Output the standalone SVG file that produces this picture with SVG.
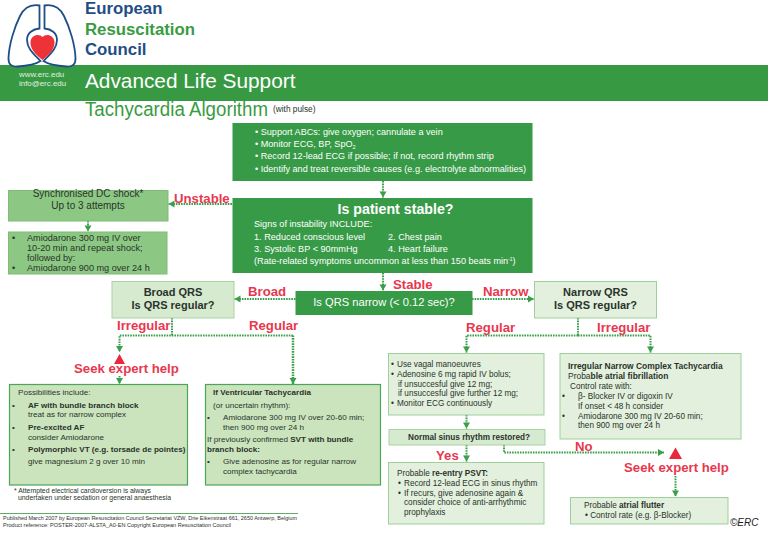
<svg xmlns="http://www.w3.org/2000/svg" width="768" height="543" viewBox="0 0 768 543">
<style>
text{font-family:"Liberation Sans",Arial,sans-serif;fill:#2a332b}
.b{font-weight:bold}
.w{fill:#fff}
.m{text-anchor:middle}
.lab{font-weight:bold;font-size:13.2px;fill:#e8384f}
.seek{font-weight:bold;font-size:13.2px;fill:#e8384f}
.dark{fill:#379a46}
.mid{fill:#8cc883;stroke:#7dbd75;stroke-width:1}
.pale{fill:#d6ead0;stroke:#a9d3a3;stroke-width:1}
.paler{fill:#e2f0dd;stroke:#9fd09b;stroke-width:1}
.strong{fill:#cbe4bd;stroke:#4ca659;stroke-width:1.2}
.t7{font-size:8.1px}
.t8{font-size:8.2px}
.t9{font-size:9.15px}
.t85{font-size:9.1px}
.q{font-size:11px;font-weight:bold}
.conn{fill:none;stroke:#3a9f4a;stroke-width:2;stroke-dasharray:1.6 1}
.tri{fill:#e8283c}
</style>
<defs>
<marker id="arr" markerUnits="userSpaceOnUse" markerWidth="8" markerHeight="8" refX="6.5" refY="4" orient="auto"><path d="M0.5 0.5L6.5 4L0.5 7.5Z" fill="#3a9f4a"/></marker>
</defs>
<rect id="band" x="0" y="65" width="768" height="36" fill="#379a43"/>
<g id="logo">
<path d="M39.500 5.500C31 4 24 8 20 16C14 28 9 45 8.500 58C8.300 64 11 67 17 66.500C25 66 34 65.500 40.500 61C35 55 27 49 27 40C27 33 33 29 39.500 28.500Z" fill="#fff" stroke="#1f4e86" stroke-width="1.800"/>
<path d="M44.500 5.500C53 4 60 8 64 16C70 28 75 45 75.500 58C75.700 64 73 67 67 66.500C59 66 50 65.500 43.500 61C49 55 57 49 57 40C57 33 51 29 44.500 28.500Z" fill="#fff" stroke="#1f4e86" stroke-width="1.800"/>
<path d="M42.500 60C36 55 30 49 30.500 42C31 35 39 33 42.500 37C46 33 54 35 54.500 42C55 49 49 55 42.500 60Z" fill="#ee3338"/>
</g>
<g id="header">
<text x="85" y="14" class="b" font-size="16.800" style="fill:#1f4e86">European</text>
<text x="85" y="35" class="b" font-size="16.800" style="fill:#3a9b42">Resuscitation</text>
<text x="85" y="55" class="b" font-size="16.800" style="fill:#1f4e86">Council</text>
<text x="19" y="76.700" class="w" font-size="7.900" opacity=".85">www.erc.edu</text>
<text x="19" y="85.700" class="w" font-size="7.900" opacity=".85">info@erc.edu</text>
<text x="85" y="88" class="w" font-size="20.800">Advanced Life Support</text>
<text x="85" y="116" font-size="19.500" textLength="183" lengthAdjust="spacingAndGlyphs" style="fill:#3a9b42">Tachycardia Algorithm</text>
<text x="273" y="112" font-size="8.300">(with pulse)</text>
</g>
<g id="connectors">
<path class="conn" d="M383 181V197.500" marker-end="url(#arr)"/>
<path class="conn" d="M232 204H168.500" marker-end="url(#arr)"/>
<path class="conn" d="M88 221V231.500" marker-end="url(#arr)"/>
<path class="conn" d="M383 273V290.500" marker-end="url(#arr)"/>
<path class="conn" d="M295.500 299H234.500" marker-end="url(#arr)"/>
<path class="conn" d="M472 299H534" marker-end="url(#arr)"/>
<path class="conn" d="M172 318V335.500"/>
<path class="conn" d="M293 335.500H119.500V352" marker-end="url(#arr)"/>
<path class="conn" d="M119.500 376V384" marker-end="url(#arr)"/>
<path class="conn" style="stroke-width:2.500" d="M293 335.500V384" marker-end="url(#arr)"/>
<path class="conn" d="M578 318V335.500"/>
<path class="conn" d="M578 335.500H466.500V352.500" marker-end="url(#arr)"/>
<path class="conn" d="M578 335.500H650.500V352.500" marker-end="url(#arr)"/>
<path class="conn" d="M466.500 415V428.500" marker-end="url(#arr)"/>
<path class="conn" d="M466.500 445V461.500" marker-end="url(#arr)"/>
<path class="conn" d="M504 445V452.500H664" marker-end="url(#arr)"/>
<path class="conn" d="M675.500 476V496.500" marker-end="url(#arr)"/>
<path class="tri" d="M119.500 354L125 364H114Z"/>
<path class="tri" d="M675.500 447.500L682 459H669Z"/>
</g>
<g id="labels">
<text x="174" y="203" class="lab">Unstable</text>
<text x="393" y="289" class="lab">Stable</text>
<text x="248" y="296" class="lab">Broad</text>
<text x="483" y="296" class="lab">Narrow</text>
<text x="117" y="330" class="lab">Irregular</text>
<text x="249" y="330" class="lab">Regular</text>
<text x="466" y="332" class="lab">Regular</text>
<text x="597" y="332" class="lab">Irregular</text>
<text x="436" y="460" class="lab">Yes</text>
<text x="575" y="451" class="lab">No</text>
<text x="74" y="373" class="seek">Seek expert help</text>
<text x="624" y="472" class="seek">Seek expert help</text>
</g>
<g id="assess">
<rect x="232.500" y="123" width="300" height="58" class="dark"/>
<text class="w t85" x="255" y="135">• Support ABCs: give oxygen; cannulate a vein</text>
<text class="w t85" x="255" y="147">• Monitor ECG, BP, SpO<tspan font-size="5.500" dy="2" class="w">2</tspan></text>
<text class="w t85" x="255" y="159">• Record 12-lead ECG if possible; if not, record rhythm strip</text>
<text class="w t85" x="255" y="172">• Identify and treat reversible causes (e.g. electrolyte abnormalities)</text>
</g>
<g id="stable">
<rect x="232.500" y="198" width="300" height="75" class="dark"/>
<text class="w b m" x="395.500" y="214" font-size="14.200">Is patient stable?</text>
<text class="w t9" x="254" y="227">Signs of instability INCLUDE:</text>
<text class="w t9" x="254" y="240">1. Reduced conscious level</text>
<text class="w t9" x="388" y="240">2. Chest pain</text>
<text class="w t9" x="254" y="252">3. Systolic BP &lt; 90mmHg</text>
<text class="w t9" x="388" y="252">4. Heart failure</text>
<text class="w t9" x="254" y="264">(Rate-related symptoms uncommon at less than 150 beats min<tspan font-size="5" dy="-3" class="w">-1</tspan><tspan dy="3" class="w">)</tspan></text>
</g>
<g id="qrs">
<rect x="295.500" y="291" width="177" height="24" class="dark"/>
<text class="w m" x="384" y="306" font-size="11.150">Is QRS narrow (&lt; 0.12 sec)?</text>
</g>
<g id="shock">
<rect x="8.500" y="190.500" width="159.500" height="30.500" class="mid"/>
<text class="m" x="88" y="197" font-size="10">Synchronised DC shock*</text>
<text class="m" x="88" y="209" font-size="10">Up to 3 attempts</text>
</g>
<g id="amiodarone">
<rect x="8.500" y="232" width="158.500" height="42" class="mid"/>
<text class="t9" x="12" y="241">•</text>
<text class="t9" x="27" y="241">Amiodarone 300 mg IV over</text>
<text class="t9" x="27" y="251">10-20 min and repeat shock;</text>
<text class="t9" x="27" y="261">followed by:</text>
<text class="t9" x="12" y="271">•</text>
<text class="t9" x="27" y="271">Amiodarone 900 mg over 24 h</text>
</g>
<g id="broad">
<rect x="112" y="281.500" width="122" height="36.500" class="pale"/>
<text class="q m" x="173" y="296">Broad QRS</text>
<text class="q m" x="173" y="309">Is QRS regular?</text>
</g>
<g id="narrow">
<rect x="534.500" y="281.500" width="122" height="36.500" class="paler"/>
<text class="q m" x="595.500" y="296">Narrow QRS</text>
<text class="q m" x="595.500" y="309">Is QRS regular?</text>
</g>
<g id="possibilities">
<rect x="9.500" y="384.500" width="178" height="100.500" class="strong"/>
<text class="t7" x="18" y="395">Possibilities include:</text>
<text class="t7" x="12" y="408">•</text><text class="t7 b" x="28" y="408">AF with bundle branch block</text>
<text class="t7" x="28" y="417">treat as for narrow complex</text>
<text class="t7" x="12" y="429.500">•</text><text class="t7 b" x="28" y="429.500">Pre-excited AF</text>
<text class="t7" x="28" y="439.500">consider Amiodarone</text>
<text class="t7" x="12" y="452">•</text><text class="t7 b" x="28" y="452">Polymorphic VT (e.g. torsade de pointes)</text>
<text class="t7" x="28" y="464">give magnesium 2 g over 10 min</text>
</g>
<g id="ventricular">
<rect x="205.500" y="384.500" width="175" height="100.500" class="strong"/>
<text class="t7 b" x="213" y="395">If Ventricular Tachycardia</text>
<text class="t7" x="213" y="408">(or uncertain rhythm):</text>
<text class="t7" x="207" y="420">•</text><text class="t7" x="223" y="420">Amiodarone 300 mg IV over 20-60 min;</text>
<text class="t7" x="223" y="429.500">then 900 mg over 24 h</text>
<text class="t7" x="207" y="441.500">If previously confirmed <tspan class="b">SVT with bundle</tspan></text>
<text class="t7 b" x="207" y="452">branch block:</text>
<text class="t7" x="207" y="464">•</text><text class="t7" x="223" y="464">Give adenosine as for regular narrow</text>
<text class="t7" x="223" y="474">complex tachycardia</text>
</g>
<g id="vagal">
<rect x="388.500" y="353.500" width="155.500" height="61.500" class="paler"/>
<text class="t8" x="391" y="367">•</text><text class="t8" x="397" y="367">Use vagal manoeuvres</text>
<text class="t8" x="391" y="377">•</text><text class="t8" x="397" y="377">Adenosine 6 mg rapid IV bolus;</text>
<text class="t8" x="398" y="387">if unsuccesful give 12 mg;</text>
<text class="t8" x="398" y="396">if unsuccesful give further 12 mg;</text>
<text class="t8" x="391" y="405.500">•</text><text class="t8" x="397" y="405.500">Monitor ECG continuously</text>
</g>
<g id="sinus">
<rect x="389" y="429.500" width="156" height="15.500" class="pale"/>
<text class="t8 b m" x="469" y="439.500">Normal sinus rhythm restored?</text>
</g>
<g id="psvt">
<rect x="388.500" y="462.500" width="155.500" height="61.500" class="paler"/>
<text class="t8" x="397" y="476">Probable <tspan class="b">re-entry PSVT:</tspan></text>
<text class="t8" x="398" y="486">•</text><text class="t8" x="404" y="486">Record 12-lead ECG in sinus rhythm</text>
<text class="t8" x="398" y="495.500">•</text><text class="t8" x="404" y="495.500">If recurs, give adenosine again &amp;</text>
<text class="t8" x="404" y="505">consider choice of anti-arrhythmic</text>
<text class="t8" x="404" y="515">prophylaxis</text>
</g>
<g id="irregular">
<rect x="560" y="353.500" width="181" height="85.500" class="paler"/>
<text class="b" font-size="8.450" x="568" y="369">Irregular Narrow Complex Tachycardia</text>
<text font-size="8.450" x="568" y="379">Proba<tspan class="b">ble atrial fibrillation</tspan></text>
<text class="t8" x="570" y="388.500">Control rate with:</text>
<text class="t8" x="562" y="398.500">•</text><text class="t8" x="578" y="398.500">β- Blocker IV or digoxin IV</text>
<text class="t8" x="578" y="408.500">If onset &lt; 48 h consider</text>
<text class="t8" x="562" y="418.500">•</text><text class="t8" x="578" y="418.500">Amiodarone 300 mg IV 20-60 min;</text>
<text class="t8" x="578" y="428">then 900 mg over 24 h</text>
</g>
<g id="flutter">
<rect x="570.500" y="497.500" width="157.500" height="26.500" class="paler"/>
<text class="t8" x="584" y="507.500">Probable <tspan class="b">atrial flutter</tspan></text>
<text class="t8" x="585" y="517.500">• Control rate (e.g. β-Blocker)</text>
</g>
<g id="footer">
<text x="14" y="493" font-size="6.800" textLength="137" lengthAdjust="spacingAndGlyphs">* Attempted electrical cardioversion is always</text>
<text x="18" y="499.500" font-size="6.800" textLength="153" lengthAdjust="spacingAndGlyphs">undertaken under sedation or general anaesthesia</text>
<rect x="0" y="513" width="298" height="1" fill="#5fae68"/>
<text x="3" y="519.500" font-size="5" textLength="294" lengthAdjust="spacingAndGlyphs">Published March 2007 by European Resuscitation Council Secretariat VZW, Drie Eikenstraat 661, 2650 Antwerp, Belgium</text>
<text x="3" y="526.500" font-size="5" textLength="228" lengthAdjust="spacingAndGlyphs">Product reference: POSTER-2007-ALSTA_A0-EN   Copyright European Resuscitation Council</text>
<text x="730" y="526" font-size="10" font-style="italic" style="fill:#222">©ERC</text>
</g>
</svg>
